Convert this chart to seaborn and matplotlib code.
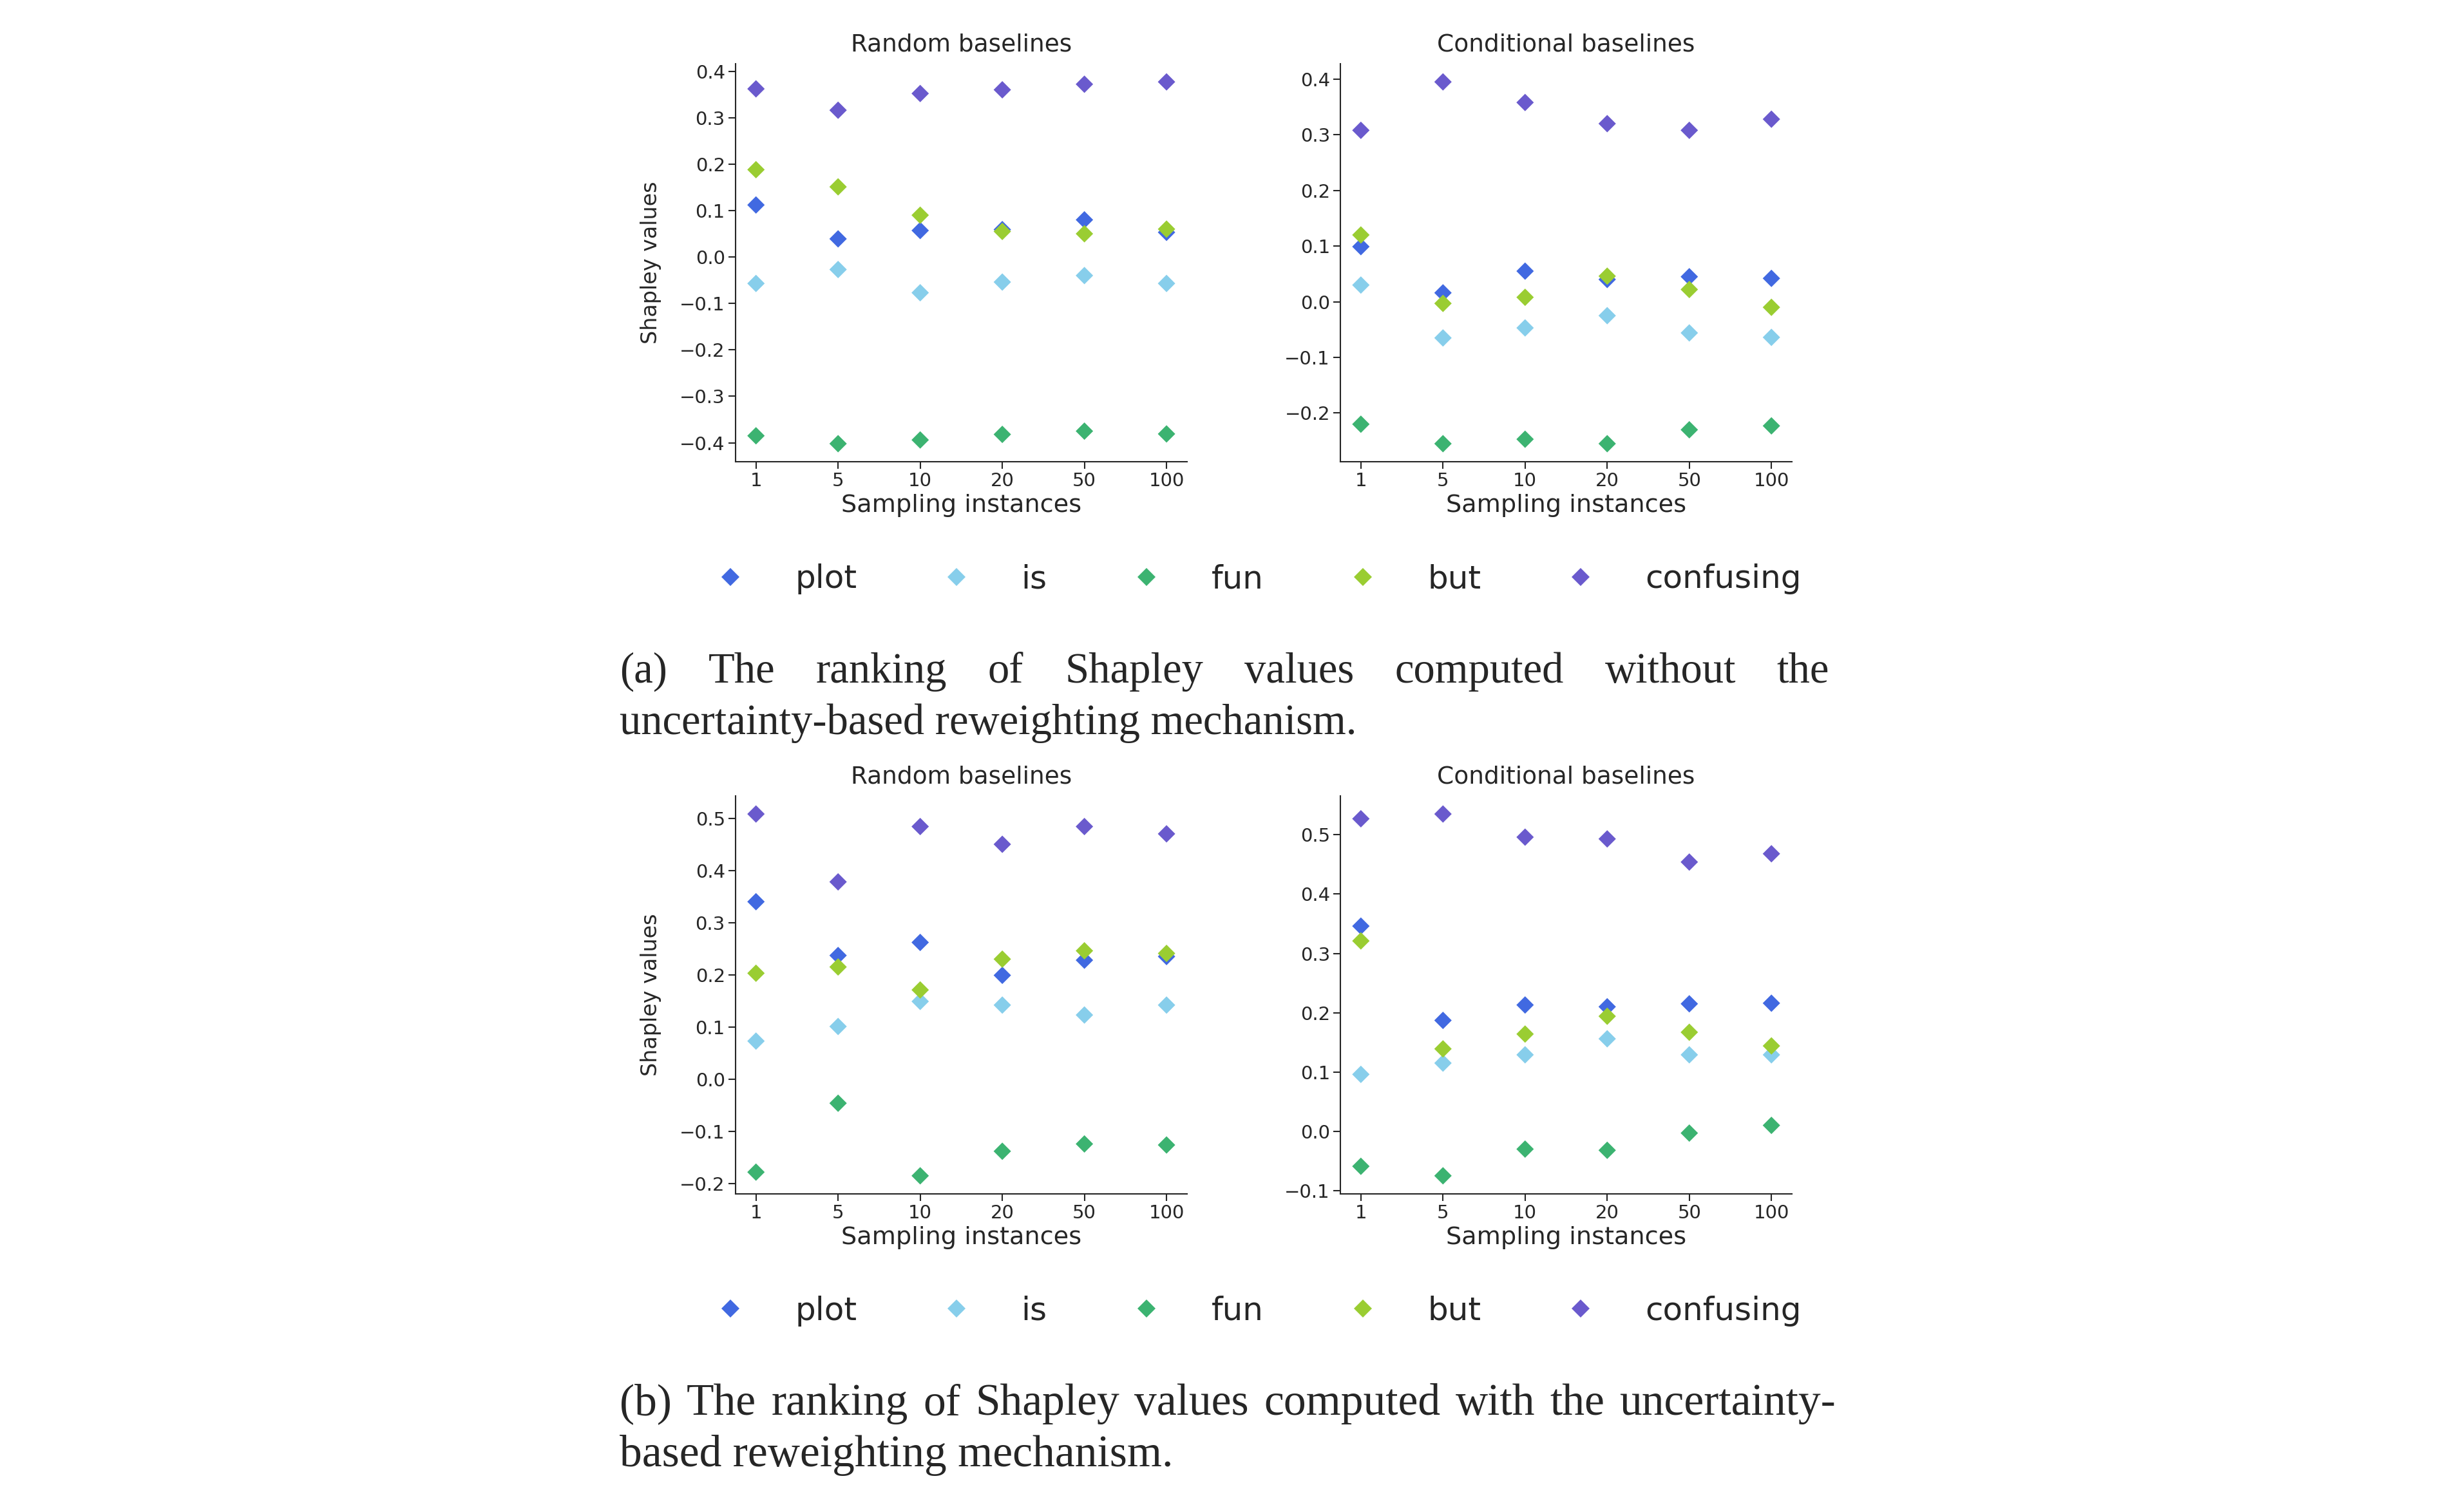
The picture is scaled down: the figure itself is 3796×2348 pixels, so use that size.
import pandas as pd
import matplotlib
matplotlib.use("Agg")
import matplotlib.pyplot as plt
import seaborn as sns

# sampling instances (categorical positions on the x axis)
sampling = ["1", "5", "10", "20", "50", "100"]
words = ["plot", "is", "fun", "but", "confusing"]
colors = ["royalblue", "skyblue", "mediumseagreen", "yellowgreen", "slateblue"]

# (a) without uncertainty-based reweighting
a_random = {
    "plot":      [0.112, 0.039, 0.057, 0.059, 0.080, 0.053],
    "is":        [-0.057, -0.027, -0.077, -0.054, -0.040, -0.057],
    "fun":       [-0.385, -0.402, -0.394, -0.382, -0.375, -0.381],
    "but":       [0.188, 0.151, 0.090, 0.055, 0.050, 0.060],
    "confusing": [0.362, 0.316, 0.352, 0.360, 0.372, 0.377],
}
a_conditional = {
    "plot":      [0.099, 0.016, 0.055, 0.040, 0.045, 0.042],
    "is":        [0.030, -0.065, -0.047, -0.025, -0.056, -0.064],
    "fun":       [-0.220, -0.255, -0.247, -0.255, -0.230, -0.223],
    "but":       [0.120, -0.003, 0.008, 0.046, 0.022, -0.010],
    "confusing": [0.308, 0.395, 0.358, 0.320, 0.308, 0.328],
}

# (b) with uncertainty-based reweighting
b_random = {
    "plot":      [0.340, 0.237, 0.262, 0.199, 0.228, 0.235],
    "is":        [0.073, 0.101, 0.149, 0.142, 0.123, 0.142],
    "fun":       [-0.178, -0.046, -0.185, -0.138, -0.124, -0.126],
    "but":       [0.203, 0.215, 0.171, 0.230, 0.246, 0.241],
    "confusing": [0.508, 0.378, 0.484, 0.450, 0.484, 0.470],
}
b_conditional = {
    "plot":      [0.346, 0.187, 0.213, 0.210, 0.215, 0.216],
    "is":        [0.096, 0.115, 0.129, 0.156, 0.129, 0.129],
    "fun":       [-0.059, -0.075, -0.030, -0.032, -0.003, 0.010],
    "but":       [0.321, 0.139, 0.164, 0.194, 0.167, 0.144],
    "confusing": [0.527, 0.535, 0.496, 0.493, 0.454, 0.468],
}

caption_a = ["(a) The ranking of Shapley values computed without the",
             "uncertainty-based reweighting mechanism."]
caption_b = ["(b) The ranking of Shapley values computed with the uncertainty-",
             "based reweighting mechanism."]


def to_long(values):
    rows = []
    for w in words:
        for i, v in enumerate(values[w]):
            rows.append({"pos": i, "value": v, "word": w})
    return pd.DataFrame(rows)


sns.set_style("ticks")
plt.rcParams["font.family"] = ["DejaVu Sans"]
palette = dict(zip(words, colors))

W, H = 3796, 2348
fig = plt.figure(figsize=(W / 100, H / 100), dpi=100)

panels = [
    (a_random, "Random baselines", [0.3008, 0.6946, 0.1847, 0.2632], True),
    (a_conditional, "Conditional baselines", [0.5482, 0.6946, 0.1847, 0.2632], False),
    (b_random, "Random baselines", [0.3008, 0.2104, 0.1847, 0.2632], True),
    (b_conditional, "Conditional baselines", [0.5482, 0.2104, 0.1847, 0.2632], False),
]

handles, labels = None, None
for values, title, rect, ylab in panels:
    ax = fig.add_axes(rect)
    sns.scatterplot(data=to_long(values), x="pos", y="value", hue="word",
                    hue_order=words, palette=palette, marker="D", s=190,
                    linewidth=0, ax=ax, legend=handles is None)
    if handles is None:
        handles, labels = ax.get_legend_handles_labels()
        ax.get_legend().remove()
    ax.set_xticks(range(len(sampling)))
    ax.set_xticklabels(sampling)
    ax.set_title(title, fontsize=27, pad=14)
    ax.set_xlabel("Sampling instances", fontsize=27.5)
    ax.set_ylabel("Shapley values" if ylab else "", fontsize=24, labelpad=20)
    ax.tick_params(labelsize=21, length=8, width=1.5)
    for sp in ax.spines.values():
        sp.set_linewidth(1.5)
    sns.despine(ax=ax)

for y in (0.617, 0.133):
    fig.legend(handles, labels, loc="center", bbox_to_anchor=(0.5145, y),
               ncol=5, frameon=False, fontsize=36, handlelength=1,
               handletextpad=1.5, columnspacing=2.6, markerscale=1.0)

# captions, first lines are justified like in the paper
renderer = fig.canvas.get_renderer()
x0 = 962
cap_a = dict(family="Liberation Serif", fontsize=48, va="baseline")
cap_b = dict(family="Liberation Serif", fontsize=50, va="baseline")


def justified(line, ybase, x1, style):
    parts = [fig.text(0, 0, w, **style) for w in line.split()]
    widths = [p.get_window_extent(renderer).width for p in parts]
    gap = (x1 - x0 - sum(widths)) / (len(parts) - 1)
    x = x0
    for p, wdt in zip(parts, widths):
        p.set_position((x / W, 1 - ybase / H))
        x += wdt + gap


justified(caption_a[0], 1060, 2840, cap_a)
fig.text(x0 / W, 1 - 1140 / H, caption_a[1], **cap_a)
justified(caption_b[0], 2197, 2850, cap_b)
fig.text(x0 / W, 1 - 2277 / H, caption_b[1], **cap_b)

fig.savefig("out.png", dpi=100)
